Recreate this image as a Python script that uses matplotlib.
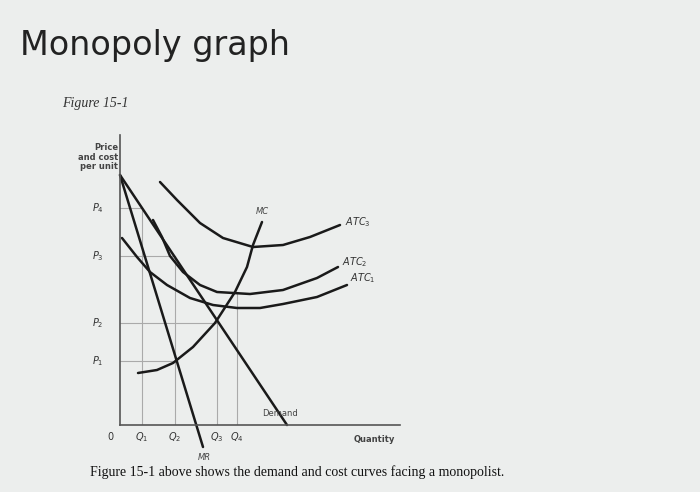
import matplotlib
matplotlib.use("Agg")
import matplotlib.pyplot as plt

demand_x = [0, 167]; demand_y = [250, 0]
mr_x = [0, 83]; mr_y = [250, -22]
mc_x = [18, 37, 53, 73, 95, 115, 127, 133, 142]
mc_y = [52, 55, 62, 78, 102, 133, 158, 180, 203]
atc3_x = [40, 57, 80, 103, 133, 163, 190, 220]
atc3_y = [243, 225, 202, 187, 178, 180, 188, 200]
atc2_x = [33, 42, 50, 63, 80, 97, 130, 163, 197, 218]
atc2_y = [205, 188, 169, 153, 140, 133, 131, 135, 147, 158]
atc1_x = [2, 17, 30, 47, 70, 93, 117, 140, 163, 197, 227]
atc1_y = [187, 168, 153, 140, 127, 120, 117, 117, 121, 128, 140]
q_vals = [22, 55, 97, 117]
q_labels = ["$Q_1$", "$Q_2$", "$Q_3$", "$Q_4$"]
p_vals = [64, 102, 169, 217]
p_labels = ["$P_1$", "$P_2$", "$P_3$", "$P_4$"]
guide_top = [217, 169, 102, 133]
guide_right = [55, 97, 55, 22]

fig = plt.figure(figsize=(7, 4.92), dpi=100)
fig.patch.set_facecolor("#eceeed")
fig.text(20/700, 1-45/492, "Monopoly graph", fontsize=24, color="#222", va="center")
fig.text(62/700, 1-103/492, "Figure 15-1", fontsize=10, family="Liberation Serif", style="italic", color="#333", va="center")
fig.text(90/700, 1-472/492, "Figure 15-1 above shows the demand and cost curves facing a monopolist.",
         fontsize=10, family="Liberation Serif", color="#111", va="center")

ax = fig.add_axes([120/700, (492-425)/492, 280/700, 290/492])
ax.set_facecolor("none")
ax.set_xlim(0, 280); ax.set_ylim(0, 290)
for s in ["top", "right"]:
    ax.spines[s].set_visible(False)
for s in ["left", "bottom"]:
    ax.spines[s].set_color("#555"); ax.spines[s].set_linewidth(1.2)
ax.set_xticks([]); ax.set_yticks([])

gc = "#aaaaaa"
for q, t in zip(q_vals, guide_top):
    ax.plot([q, q], [0, t], color=gc, lw=0.8)
for p, r in zip(p_vals, guide_right):
    ax.plot([0, r], [p, p], color=gc, lw=0.8)

lc = "#1a1a1a"
kw = dict(color=lc, lw=1.8, solid_joinstyle="round", solid_capstyle="round")
ax.plot(demand_x, demand_y, clip_on=False, **kw)
ax.plot(mr_x, mr_y, clip_on=False, **kw)
ax.plot(mc_x, mc_y, **kw)
ax.plot(atc3_x, atc3_y, **kw)
ax.plot(atc2_x, atc2_y, **kw)
ax.plot(atc1_x, atc1_y, **kw)

fs = 7
for q, l in zip(q_vals, q_labels):
    ax.text(q, -12, l, ha="center", va="center", fontsize=fs, color="#333")
ax.text(-10, -12, "0", ha="center", va="center", fontsize=fs, color="#333")
for p, l in zip(p_vals, p_labels):
    ax.text(-22, p, l, ha="center", va="center", fontsize=fs, color="#333")
ax.text(-2, 268, "Price\nand cost\nper unit", ha="right", va="center", fontsize=6, fontweight="bold", color="#444", linespacing=1.1)
ax.text(275, -15, "Quantity", ha="right", va="center", fontsize=6, fontweight="bold", color="#444")
ax.text(84, -32, "MR", ha="center", va="center", fontsize=6, style="italic", color="#444")
ax.text(160, 12, "Demand", ha="center", va="center", fontsize=6, color="#444")
ax.text(142, 213, "MC", ha="center", va="center", fontsize=6, style="italic", color="#444")
ax.text(225, 203, "$ATC_3$", ha="left", va="center", fontsize=7, color="#333")
ax.text(222, 163, "$ATC_2$", ha="left", va="center", fontsize=7, color="#333")
ax.text(230, 147, "$ATC_1$", ha="left", va="center", fontsize=7, color="#333")

fig.savefig("out.png", dpi=100, facecolor=fig.get_facecolor())
